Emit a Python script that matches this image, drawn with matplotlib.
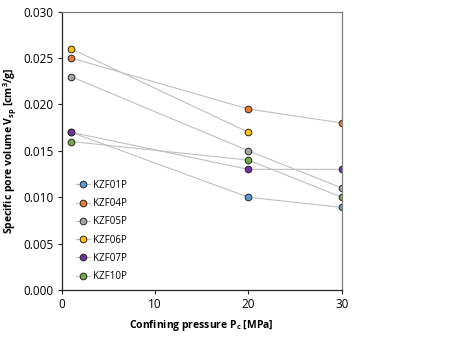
import matplotlib.pyplot as plt
import numpy as np

plt.rcParams['font.family'] = ['Open Sans', 'DejaVu Sans']

pressure = [1, 20, 30]
samples = ["KZF01P", "KZF04P", "KZF05P", "KZF06P", "KZF07P", "KZF10P"]
kzf01p = [0.017, 0.010, 0.0089]
kzf04p = [0.025, 0.0195, 0.018]
kzf05p = [0.023, 0.015, 0.011]
kzf06p = [0.026, 0.017, np.nan]
kzf07p = [0.017, 0.013, 0.013]
kzf10p = [0.016, 0.014, 0.010]
colors = ["#5b9bd5", "#ed7d31", "#a5a5a5", "#ffc000", "#7030a0", "#70ad47"]

fig = plt.figure(figsize=(4.74, 3.40), dpi=100)
ax = fig.add_axes([0.130, 0.147, 0.591, 0.819])

for name, vals, c in zip(samples, [kzf01p, kzf04p, kzf05p, kzf06p, kzf07p, kzf10p], colors):
    ax.plot(pressure, vals, "-o", color="#bfbfbf", lw=0.8,
            marker="o", ms=4.8, mfc=c, mec="#262626", mew=0.7, label=name)

ax.set_xlim(0, 30)
ax.set_ylim(0, 0.030)
ax.set_xticks([0, 10, 20, 30])
ax.set_yticks(np.arange(0, 0.0301, 0.005))
ax.yaxis.set_major_formatter(plt.FormatStrFormatter("%.3f"))
ax.tick_params(direction="out", length=3, width=0.8, labelsize=8.5, pad=3,
               color="#262626")
for s in ["left", "bottom"]:
    ax.spines[s].set_color("#262626")
    ax.spines[s].set_linewidth(0.9)
for s in ["top", "right"]:
    ax.spines[s].set_color("#7f7f7f")
    ax.spines[s].set_linewidth(0.9)

ax.set_xlabel("Confining pressure P$_\\mathregular{c}$ [MPa]", fontsize=7.5,
              fontweight="bold", labelpad=5)
ax.set_ylabel("Specific pore volume V$_\\mathregular{sp}$ [cm$^\\mathregular{3}$/g]",
              fontsize=7.5, fontweight="bold", labelpad=3)

ax.legend(loc="lower left", bbox_to_anchor=(0.028, 0.004), frameon=False,
          fontsize=7, handlelength=1.4, handletextpad=0.3, labelspacing=0.75,
          borderaxespad=0.3)

plt.savefig("out.png", dpi=100)
